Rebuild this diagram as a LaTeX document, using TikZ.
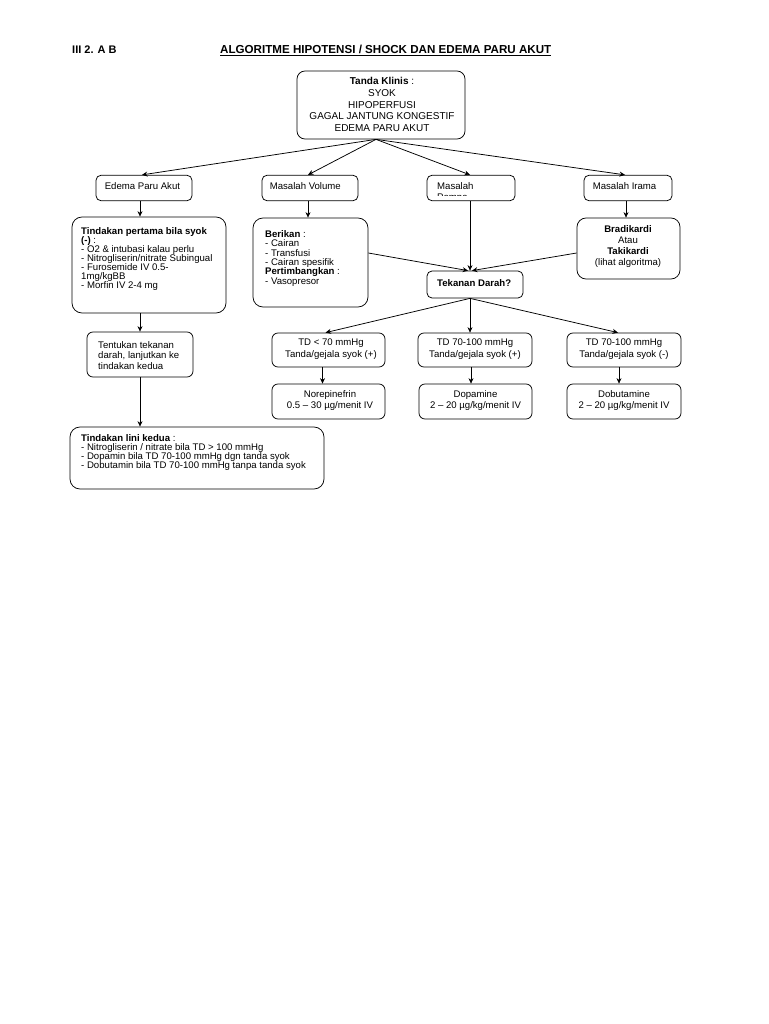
\documentclass[tikz,border=0pt]{standalone}
\usepackage{fontspec}
\setmainfont{Liberation Sans}
\usetikzlibrary{arrows.meta,calc}
\begin{document}
\lineskiplimit=-20pt
\begin{tikzpicture}[x=1pt,y=-1pt,
 box/.style={draw, line width=0.75pt, rounded corners=5pt, inner sep=0pt},
 txt/.style={inner sep=0pt, font=\fontsize{9.6}{9.2}\selectfont, align=left},
 ctxt/.style={inner sep=0pt, font=\fontsize{9.6}{11.5}\selectfont, align=center},
 arr/.style={line width=0.75pt, -{Stealth[length=5.5pt,width=5pt]}},
 ln/.style={line width=0.75pt}]
\useasboundingbox (0,0) rectangle (768,1024);
\fill[white] (0,0) rectangle (768,1024);
% heading
\node[anchor=west, inner sep=0pt, font=\fontsize{11}{13}\selectfont\bfseries] (sec) at (72,50) {III 2. A B};
\node[anchor=west, inner sep=0pt, font=\fontsize{11.6}{13}\selectfont\bfseries] (title) at (220,50) {\underline{ALGORITME HIPOTENSI / SHOCK DAN EDEMA PARU AKUT}};
% top box
\node[box, rounded corners=8pt, minimum width=168pt, minimum height=68pt] (top) at (381,105) {};
\node[ctxt, font=\fontsize{10}{11.8}\selectfont] (topt) at (382,104.5) {\textbf{Tanda Klinis} :\\SYOK\\HIPOPERFUSI\\GAGAL JANTUNG KONGESTIF\\EDEMA PARU AKUT};
% row 2
\node[box, minimum width=96pt, minimum height=25.5pt] (edema) at (144,188) {};
\node[txt, anchor=west] (edemat) at ([xshift=9pt,yshift=1.5pt]edema.west) {Edema Paru Akut};
\node[box, minimum width=96pt, minimum height=25.5pt] (volume) at (310,188) {};
\node[txt, anchor=west] (volumet) at ([xshift=8pt,yshift=1.5pt]volume.west) {Masalah Volume};
\node[box, minimum width=88pt, minimum height=25.5pt] (pompa) at (471,188) {};
\begin{scope}
\clip (428,176) rectangle (514,196);
\node[txt, font=\fontsize{9.6}{11}\selectfont, anchor=north west] (pompat) at (437,182.3) {Masalah\\Pompa};
\end{scope}
\node[box, minimum width=88pt, minimum height=25.5pt] (irama) at (628,188) {};
\node[txt, anchor=west] (iramat) at ([xshift=9pt,yshift=1.5pt]irama.west) {Masalah Irama};
% row 3
\node[box, rounded corners=10pt, minimum width=154pt, minimum height=96pt] (tp) at (149,265) {};
\node[txt, font=\fontsize{9.6}{9}\selectfont, anchor=north west] (tpt) at (81,227) {\textbf{Tindakan pertama bila syok}\\\textbf{(-)} :\\- O2 \& intubasi kalau perlu\\- Nitrogliserin/nitrate Subingual\\- Furosemide IV 0.5-\\1mg/kgBB\\- Morfin IV 2-4 mg};
\node[box, rounded corners=10pt, minimum width=115pt, minimum height=89pt] (berikan) at (310.5,262.5) {};
\node[txt, font=\fontsize{9.6}{9.3}\selectfont, anchor=north west] (berikant) at (265,230.5) {\textbf{Berikan} :\\- Cairan\\- Transfusi\\- Cairan spesifik\\\textbf{Pertimbangkan} :\\- Vasopresor};
\node[box, rounded corners=9pt, minimum width=103pt, minimum height=61pt] (brad) at (628.5,248.5) {};
\node[ctxt, font=\fontsize{9.6}{11}\selectfont] (bradt) at (628,246.5) {\textbf{Bradikardi}\\Atau\\\textbf{Takikardi}\\(lihat algoritma)};
\node[box, minimum width=96pt, minimum height=27pt] (tek) at (475,284.5) {};
\node[txt, anchor=west, font=\fontsize{9.6}{9.2}\selectfont\bfseries] (tekt) at (437,283) {Tekanan Darah?};
% left column
\node[box, rounded corners=6pt, minimum width=106pt, minimum height=45pt] (tentukan) at (140,354.5) {};
\node[txt, font=\fontsize{9.6}{10.3}\selectfont, anchor=north west] (tentukant) at (98,341.5) {Tentukan tekanan\\darah, lanjutkan ke\\tindakan kedua};
\node[box, rounded corners=10pt, minimum width=254pt, minimum height=62pt] (lini) at (197,458) {};
\node[txt, font=\fontsize{9.6}{9}\selectfont, anchor=north west] (linit) at (81,434.5) {\textbf{Tindakan lini kedua} :\\- Nitrogliserin / nitrate bila TD > 100 mmHg\\- Dopamin bila TD 70-100 mmHg dgn tanda syok\\- Dobutamin bila TD 70-100 mmHg tanpa tanda syok};
% row 4
\node[box, rounded corners=6pt, minimum width=113pt, minimum height=34pt] (td1) at (328.5,350) {};
\node[ctxt] (td1t) at (331,349) {TD < 70 mmHg\\Tanda/gejala syok (+)};
\node[box, rounded corners=6pt, minimum width=114pt, minimum height=34pt] (td2) at (475,350) {};
\node[ctxt] (td2t) at (475,349) {TD 70-100 mmHg\\Tanda/gejala syok (+)};
\node[box, rounded corners=6pt, minimum width=114pt, minimum height=34pt] (td3) at (624,350) {};
\node[ctxt] (td3t) at (624,349) {TD 70-100 mmHg\\Tanda/gejala syok (-)};
% row 5
\node[box, rounded corners=6pt, minimum width=113pt, minimum height=35pt] (nor) at (328.5,401.5) {};
\node[ctxt, font=\fontsize{9.6}{11}\selectfont] (nort) at (330,400.5) {Norepinefrin\\0.5 – 30 µg/menit IV};
\node[box, rounded corners=6pt, minimum width=113pt, minimum height=35pt] (dop) at (475.5,401.5) {};
\node[ctxt, font=\fontsize{9.6}{11}\selectfont] (dopt) at (475.5,400.5) {Dopamine\\2 – 20 µg/kg/menit IV};
\node[box, rounded corners=6pt, minimum width=114pt, minimum height=35pt] (dob) at (624,401.5) {};
\node[ctxt, font=\fontsize{9.6}{11}\selectfont] (dobt) at (624,400.5) {Dobutamine\\2 – 20 µg/kg/menit IV};
% connectors
\coordinate (topout) at ([xshift=-5pt]top.south);
\draw[arr] (topout) -- ([xshift=-2pt]edema.north);
\draw[arr] (topout) -- ([xshift=-2pt]volume.north);
\draw[arr] (topout) -- ([xshift=-1pt]pompa.north);
\draw[arr] (topout) -- ([xshift=-3pt]irama.north);
\draw[arr] (tentukan.north |- edema.south) -- (tentukan.north |- tp.north);
\draw[arr] ([xshift=-2pt]volume.south) -- ([xshift=-2pt]volume.south |- berikan.north);
\draw[arr] ([xshift=-2pt]irama.south) -- ([xshift=-2pt]irama.south |- brad.north);
\coordinate (tekin) at ([xshift=-1pt]pompa.south |- tek.north);
\draw[arr] ([xshift=-1pt]pompa.south) -- (tekin);
\draw[arr] ([yshift=9.5pt]berikan.east) -- ([xshift=-2pt]tekin);
\draw[arr] ([yshift=-4.5pt]brad.west) -- ([xshift=2pt]tekin);
\draw[arr] (tentukan.north |- tp.south) -- (tentukan.north);
\draw[arr] (tentukan.south) -- (tentukan.south |- lini.north);
\coordinate (tekout) at (tek.south -| tekin);
\draw[arr] (tekout) -- ([xshift=-3pt]td1.north);
\draw[arr] (tekout) -- (tekout |- td2.north);
\draw[arr] (tekout) -- ([xshift=-6pt]td3.north);
\draw[arr] ([xshift=-6pt]td1.south) -- ([xshift=-6pt]nor.north);
\draw[arr] ([xshift=-4pt]td2.south) -- ([xshift=-4pt]td2.south |- dop.north);
\draw[arr] ([xshift=-5pt]td3.south) -- ([xshift=-5pt]td3.south |- dob.north);
\end{tikzpicture}
\end{document}
